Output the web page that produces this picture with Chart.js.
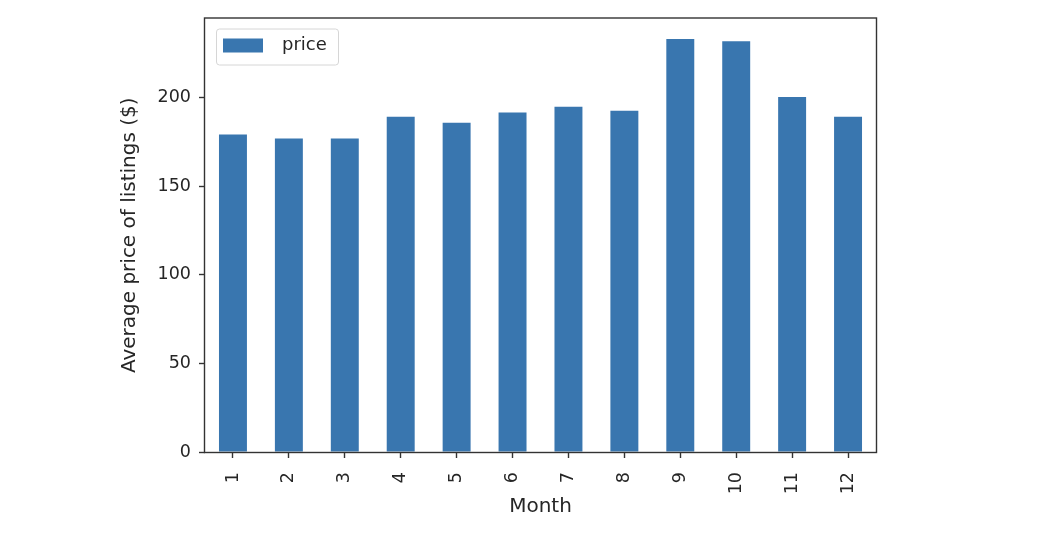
<!DOCTYPE html>
<html>
<head>
<meta charset="utf-8">
<script src="https://cdn.jsdelivr.net/npm/chart.js@4/dist/chart.umd.min.js"></script>
<style>
  html, body { margin: 0; padding: 0; background: #fff; }
  #wrap { width: 1039px; height: 535px; }
</style>
</head>
<body>
<div id="wrap"><canvas id="myChart"></canvas></div>
<script>
const months = ['1', '2', '3', '4', '5', '6', '7', '8', '9', '10', '11', '12'];
const price = [179.1, 176.9, 176.9, 189.2, 185.8, 191.5, 194.8, 192.6, 233.0, 231.7, 200.3, 189.2];
const yTicks = [0, 50, 100, 150, 200];

const textColor = '#262626';
const axisColor = '#333';
const tickFont = { family: 'DejaVu Sans', size: 17.5 };
const titleFont = { family: 'DejaVu Sans', size: 20 };

// box round the plot + legend inside top left, like matplotlib
const frame = {
    id: 'frame',
    afterDraw(chart) {
        const { ctx, chartArea: a } = chart;
        ctx.save();
        ctx.strokeStyle = axisColor;
        ctx.lineWidth = 1.4;
        ctx.strokeRect(a.left - 0.5, a.top - 0.5, a.right - a.left + 1, a.bottom - a.top + 1);

        // legend
        const x = a.left + 11, y = a.top + 10;
        ctx.fillStyle = 'rgba(255,255,255,0.8)';
        ctx.strokeStyle = '#d6d6d6';
        ctx.lineWidth = 1;
        ctx.beginPath();
        ctx.roundRect(x + 0.5, y + 0.5, 122, 36, 3);
        ctx.fill();
        ctx.stroke();
        ctx.fillStyle = '#3976af';
        ctx.fillRect(x + 7, y + 10, 40, 14);
        ctx.fillStyle = textColor;
        ctx.font = '18px "DejaVu Sans"';
        ctx.textBaseline = 'middle';
        ctx.fillText(chart.data.datasets[0].label, x + 66, y + 17);
        ctx.restore();
    }
};

const ctx = document.getElementById('myChart').getContext('2d');
const myChart = new Chart(ctx, {
    type: 'bar',
    data: {
        labels: months,
        datasets: [{
            label: 'price',
            data: price,
            backgroundColor: '#3976af',
            borderWidth: 0,
            barPercentage: 0.5,
            categoryPercentage: 1.0
        }]
    },
    options: {
        responsive: true,
        maintainAspectRatio: false,
        animation: false,
        layout: { padding: { left: 114, top: 15, right: 163, bottom: 12 } },
        plugins: {
            legend: { display: false },
            tooltip: { enabled: false }
        },
        scales: {
            x: {
                afterFit: (s) => { s.height = 71; },
                grid: { display: true, offset: false, drawOnChartArea: false, drawTicks: true, tickLength: 6, tickWidth: 1.4, color: axisColor },
                border: { display: false },
                ticks: { color: textColor, font: tickFont, minRotation: 90, maxRotation: 90, padding: 14 },
                title: { display: true, text: 'Month', color: textColor, font: titleFont }
            },
            y: {
                min: 0,
                max: 244.6,
                afterFit: (s) => { s.width = 91; },
                afterBuildTicks: (s) => { s.ticks = yTicks.map(v => ({ value: v })); },
                grid: { display: true, drawOnChartArea: false, drawTicks: true, tickLength: 6, tickWidth: 1.4, color: axisColor },
                border: { display: false },
                ticks: { color: textColor, font: tickFont, padding: 8 },
                title: { display: true, text: 'Average price of listings ($)', color: textColor, font: titleFont }
            }
        }
    },
    plugins: [frame]
});
</script>
</body>
</html>
